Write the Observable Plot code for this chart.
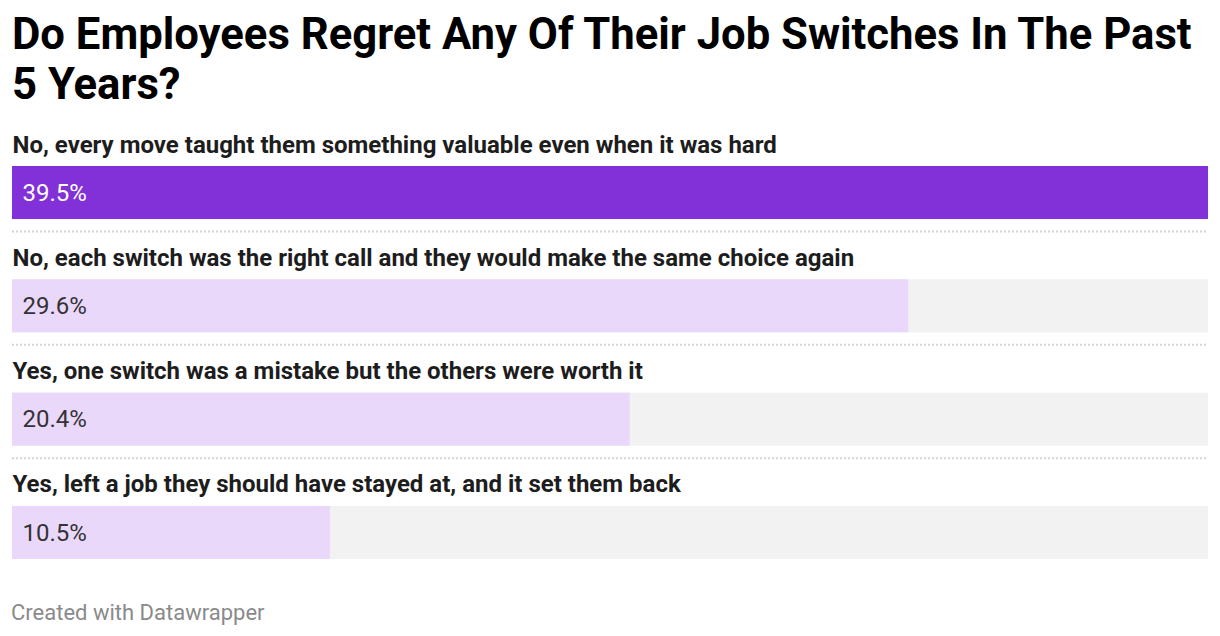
<!DOCTYPE html>
<html>
<head>
<meta charset="utf-8">
<script src="https://cdn.jsdelivr.net/npm/d3@7"></script>
<script src="https://cdn.jsdelivr.net/npm/@observablehq/plot@0.6"></script>
<style>
  html, body { margin: 0; background: #fff; }
  #page { position: relative; width: 1220px; height: 636px; font-family: Roboto, sans-serif; }
  #title { position: absolute; left: 12px; top: 10.1px; width: 1196px; margin: 0;
           font-size: 43.65px; line-height: 50px; font-weight: 700; color: #000; }
  #chart { position: absolute; left: 0; top: 110px; }
  #credit { position: absolute; left: 11px; top: 599.5px; font-size: 22px; line-height: 26px; color: #8a8a8a; }
</style>
</head>
<body>
<div id="page">
  <h1 id="title">Do Employees Regret Any Of Their Job Switches In The Past 5 Years?</h1>
  <div id="chart"></div>
  <div id="credit">Created with Datawrapper</div>
</div>
<script>
// Survey answers, in display order
const answers = [
  "No, every move taught them something valuable even when it was hard",
  "No, each switch was the right call and they would make the same choice again",
  "Yes, one switch was a mistake but the others were worth it",
  "Yes, left a job they should have stayed at, and it set them back"
];
// Share of respondents (%)
const shares = [39.5, 29.6, 20.4, 10.5];

const rows = answers.map((answer, i) => ({answer, share: shares[i], top: i === 0}));
const maxShare = d3.max(shares);

const purple = "#8230d8";
const lavender = "#ead8fb";
const track = "#f2f2f2";

const chart = Plot.plot({
  width: 1220,
  height: 470,
  marginLeft: 12,
  marginRight: 12,
  marginTop: 56,
  marginBottom: 21,
  style: {fontFamily: "Roboto, sans-serif", overflow: "visible", background: "transparent"},
  x: {domain: [0, maxShare], axis: null},
  y: {domain: answers, axis: null, paddingInner: 0.532, paddingOuter: 0, round: false},
  marks: [
    // full-width track behind each bar
    Plot.barX(rows, {y: "answer", x1: 0, x2: maxShare, fill: track}),
    // value bars
    Plot.barX(rows, {y: "answer", x: "share", fill: d => d.top ? purple : lavender}),
    // dotted separators below every row but the last
    Plot.ruleY(rows.slice(0, -1), {y: "answer", dy: 38.5, stroke: "#d4d4d4", strokeWidth: 2, strokeDasharray: "2,2"}),
    // answer text above each bar
    Plot.text(rows, {y: "answer", x: 0, text: "answer", textAnchor: "start", lineAnchor: "bottom",
      dy: -40.5, fontSize: 24, fontWeight: 700, fill: "#1d1d1d"}),
    // value labels inside bars
    Plot.text(rows, {y: "answer", x: 0, text: d => d.share.toFixed(1) + "%", textAnchor: "start",
      dx: 10, fontSize: 24, fill: d => d.top ? "#ffffff" : "#333333"})
  ]
});
document.getElementById("chart").appendChild(chart);
</script>
</body>
</html>
